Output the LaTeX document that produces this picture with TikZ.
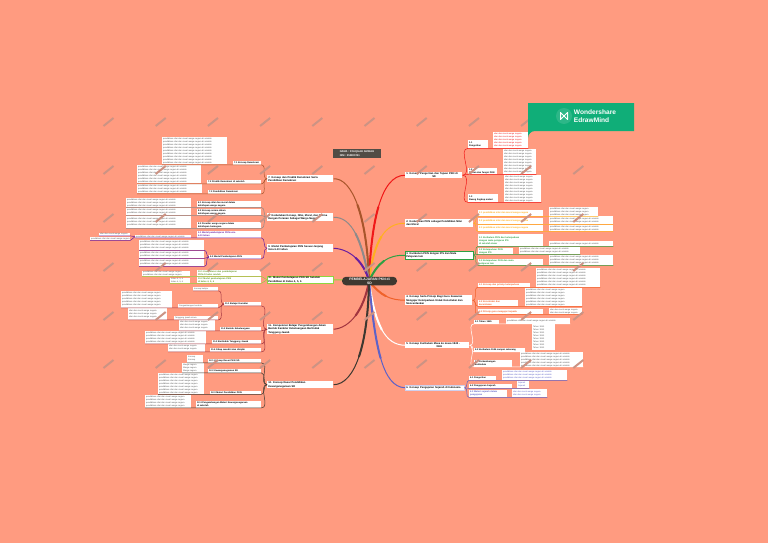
\documentclass[tikz,border=0pt]{standalone}
\usepackage{fontspec}
\setmainfont{Liberation Sans}
\usetikzlibrary{backgrounds,calc}
\definecolor{latar}{HTML}{FF9B80}
\definecolor{merah}{HTML}{F01818}
\definecolor{oranye}{HTML}{FFB020}
\definecolor{hijau}{HTML}{2EA043}
\definecolor{jingga}{HTML}{F0622A}
\definecolor{biru}{HTML}{5E62C8}
\definecolor{coklat}{HTML}{A8552B}
\definecolor{abu}{HTML}{8E8A8A}
\definecolor{ungu}{HTML}{6A1FA0}
\definecolor{limau}{HTML}{8ED63F}
\definecolor{marun}{HTML}{A2343F}
\definecolor{gelap}{HTML}{3E3830}
\definecolor{logohijau}{HTML}{10AE78}
\tikzset{
  daun/.style={fill=white,inner xsep=.8pt,inner ysep=0pt,align=left,text=black!65,font=\fontsize{2.1}{3}\selectfont},
  anak/.style={fill=white,inner xsep=.8pt,inner ysep=0pt,align=left,font=\fontsize{2.3}{3}\selectfont\bfseries},
  utama/.style={fill=white,inner xsep=1pt,inner ysep=0pt,align=left,line width=.5pt,font=\fontsize{2.6}{3.2}\selectfont\bfseries},
  tanda/.style={line width=2pt,color=abu!45!latar},
}
% kotak: nama, x1, y1, x2, y2, gaya, isi
\newcommand{\kotak}[7]{
  \pgfmathsetmacro\lebar{#4-#2}
  \pgfmathsetmacro\tinggi{#5-#3}
  \node[#6,anchor=north west,minimum width=\lebar pt,minimum height=\tinggi pt,text width=\lebar pt-1.8pt] (#1) at (#2,#3) {#7};
}
\newcommand{\isi}[2]{\foreach \i in {1,...,#2}{\mbox{#1}\par}}
\newcommand{\pendek}{nilai dan moral warga negara}
\newcommand{\sedang}{pendidikan nilai dan moral warga negara}
\newcommand{\panjang}{pendidikan nilai dan moral warga negara di sekolah}
% cabang kanan dan kiri: induk, anak, daun, warna
\newcommand{\kanan}[4]{\draw[#4,line width=.5pt] (#1.east) to[out=0,in=180] (#2.south west) -- (#2.south west -| #3.south east);}
\newcommand{\kiri}[4]{\draw[#4,line width=.5pt] (#1.west) to[out=180,in=0] (#2.south east) -- (#2.south east -| #3.south west);}
% dahan utama, tebal di dekat pusat
\newcommand{\dahan}[5]{
  \begin{scope}[on background layer]
  \coordinate (t1) at ($(pusat)!.5!#2$);
  \coordinate (t2) at ($#2!.5!#3$);
  \coordinate (t3) at ($#3!.5!(#1.#4)$);
  \coordinate (t4) at ($(t1)!.5!(t2)$);
  \coordinate (t5) at ($(t2)!.5!(t3)$);
  \coordinate (t6) at ($(t4)!.5!(t5)$);
  \draw[#5,line width=1pt] (pusat) .. controls #2 and #3 .. (#1.#4);
  \draw[#5,line width=2pt,line cap=round] (pusat) .. controls (t1) and (t4) .. (t6);
  \end{scope}
}
\begin{document}
\begin{tikzpicture}[x=1pt,y=-1pt]
\useasboundingbox (0,0) rectangle (768,543);
\begin{scope}[on background layer]
\fill[latar] (0,0) rectangle (768,543);
\end{scope}

% pusat
\node[fill=gelap,rounded corners=4pt,minimum width=55pt,minimum height=8.5pt,inner sep=0pt,align=center,text=white,font=\fontsize{3.4}{3.9}\selectfont\bfseries] (akar) at (369.5,281) {PEMBELAJARAN PKN di\\SD};
\coordinate (pusat) at (369,281);
\node[fill=gelap!90!white,minimum width=48pt,minimum height=9pt,inner sep=0pt,align=left,text=white,font=\fontsize{2.6}{3.4}\selectfont\bfseries] (catatan) at (357,153.5) {NAMA : SYAQILAH AMIRAH\\NIM : 050800741};

% cabang kanan
\kotak{Ra}{405}{172}{462}{178}{utama}{1. Konsep Pengertian dan Tujuan PKN di\\\hspace*{26pt}SD}
\kotak{Rb}{405}{219}{473}{227}{utama}{2. Kedudukan PKN sebagai Pendidikan Nilai\\dan Moral}
\kotak{Rc}{405}{251}{473}{259}{utama,draw=hijau}{3. Kurikulum PKN dengan IPS dan Mata\\Pelajaran lain}
\kotak{Rd}{405}{295}{472}{305}{utama}{4. Konsep Serta Prinsip Bagi Guru Kewarnai\\Mengajar Keterpaduan Untuk Konstruksi dan\\Mencerdaskan}
\kotak{Re}{405}{342}{469}{348}{utama}{5. Konsep Kurikulum Masa ke masa 1945 -\\\hspace*{30pt}1946}
\kotak{Rf}{405}{385}{464}{390}{utama,draw=biru!30}{6. Konsep Pengajaran Sejarah di Indonesia}
\dahan{Ra}{(371,225)}{(380,175)}{west}{merah}
\dahan{Rb}{(374,240)}{(385,223)}{west}{oranye}
\dahan{Rc}{(378,262)}{(388,255)}{west}{hijau}
\dahan{Rd}{(381,296)}{(390,300)}{west}{jingga}
\dahan{Re}{(375,325)}{(385,345)}{west}{white}
\dahan{Rf}{(375,345)}{(382,387)}{west}{biru}

\kotak{Ra1}{468}{140}{488}{148}{anak}{1.1\\Pengertian}
\kotak{Ra1i}{493}{132}{528}{148}{daun,text=merah}{\isi{\pendek}{5}}
\kotak{Ra2}{468}{168}{497}{174}{anak}{1.2\\Tujuan dan fungsi PKN}
\kotak{Ra2i}{503}{149}{536}{174}{daun}{\isi{\pendek}{8}}
\kotak{Ra3}{468}{194}{498}{202}{anak}{1.3\\Ruang lingkup materi}
\kotak{Ra3i}{504}{175}{541}{202}{daun}{\isi{\pendek}{9}}
\kanan{Ra}{Ra1}{Ra1i}{merah}
\kanan{Ra}{Ra2}{Ra2i}{merah}
\kanan{Ra}{Ra3}{Ra3i}{merah}

\kotak{Rb1}{478}{210}{543}{216}{anak,text=oranye}{2.1 \sedang}
\kotak{Rb1i}{549}{207}{598}{216}{daun}{\isi{\sedang}{3}}
\kotak{Rb2}{478}{218}{543}{224}{anak,text=oranye}{2.2 \sedang}
\kotak{Rb2i}{549}{216}{613}{224}{daun}{\isi{\panjang}{2}}
\kotak{Rb3}{478}{225}{543}{231}{anak,text=oranye}{2.3 \sedang}
\kotak{Rb3i}{549}{225}{613}{231}{daun}{\isi{\panjang}{2}}
\kanan{Rb}{Rb1}{Rb1i}{oranye}
\kanan{Rb}{Rb2}{Rb2i}{oranye}
\kanan{Rb}{Rb3}{Rb3i}{oranye}

\kotak{Rc1}{478}{234}{543}{246}{anak,text=hijau}{3.1 Kurikulum PKN dan keterpaduan\\dengan mata pelajaran IPS\\di sekolah dasar}
\kotak{Rc1i}{549}{241}{613}{246}{daun}{\isi{\panjang}{1}}
\kotak{Rc2}{478}{248}{513}{254}{anak,text=hijau}{3.2 Keterpaduan PKN\\dengan IPS}
\kotak{Rc2i}{519}{247}{580}{254}{daun}{\isi{\panjang}{2}}
\kotak{Rc3}{478}{259}{543}{265}{anak,text=hijau}{3.3 Keterpaduan PKN dan mata\\pelajaran lain}
\kotak{Rc3i}{549}{255}{613}{265}{daun}{\isi{\panjang}{3}}
\kanan{Rc}{Rc1}{Rc1i}{hijau}
\kanan{Rc}{Rc2}{Rc2i}{hijau}
\kanan{Rc}{Rc3}{Rc3i}{hijau}

\kotak{Rd1}{478}{283}{530}{287}{anak,text=jingga}{4.1 Konsep dan prinsip keterpaduan}
\kotak{Rd1i}{536}{268}{600}{287}{daun}{\isi{\panjang}{6}}
\kotak{Rd2}{478}{300}{518}{306}{anak,text=jingga}{4.2 Konstruksi dan\\kecerdasan}
\kotak{Rd2i}{525}{288}{582}{306}{daun}{\isi{\sedang}{6}}
\kotak{Rd3}{478}{309}{543}{314}{anak,text=jingga}{4.3 Prinsip guru mengajar terpadu}
\kotak{Rd3i}{549}{308}{582}{314}{daun}{\isi{\pendek}{2}}
\kanan{Rd}{Rd1}{Rd1i}{jingga}
\kanan{Rd}{Rd2}{Rd2i}{jingga}
\kanan{Rd}{Rd3}{Rd3i}{jingga}

\kotak{Re1}{474}{320}{499}{323.5}{anak}{5.1 Tahun 1945}
\kotak{Re1i}{506}{318}{570}{323.5}{daun}{\isi{\panjang}{1}}
\kotak{Re2}{474}{348}{525}{351.5}{anak}{5.2 Kurikulum 1946 sampai sekarang}
\kotak{Re2i}{532}{324}{555}{350}{daun}{\isi{Tahun 1950}{8}}
\kotak{Re3}{474}{360}{512}{366.5}{anak}{5.3 Perkembangan\\kurikulum}
\kotak{Re3i}{520}{352}{583}{367}{daun}{\isi{\panjang}{5}}
\kanan{Re}{Re1}{Re1i}{white}
\kanan{Re}{Re2}{Re2}{white}
\kanan{Re}{Re3}{Re3i}{white}

\kotak{Rf1}{469}{376}{496}{380}{anak}{6.1 Pengertian}
\kotak{Rf1i}{502}{370}{567}{380}{daun,text=biru}{\isi{\panjang}{3}}
\kotak{Rf2}{469}{384}{512}{388}{anak}{6.2 Pengajaran Sejarah}
\kotak{Rf2i}{517}{381}{529}{388}{daun,text=biru}{\isi{Sejarah}{2}}
\kotak{Rf3}{469}{390}{507}{397}{anak,text=biru}{6.3 Materi sejarah dalam\\pengajaran}
\kotak{Rf3i}{512}{389}{547}{397}{daun,text=biru}{\isi{\pendek}{2}}
\kanan{Rf}{Rf1}{Rf1i}{biru}
\kanan{Rf}{Rf2}{Rf2i}{biru}
\kanan{Rf}{Rf3}{Rf3i}{biru}

% cabang kiri
\kotak{La}{267}{175}{333}{182}{utama}{7. Konsep dan Praktik Demokrasi Serta\\Pendidikan Demokrasi}
\kotak{Lb}{267}{213}{333}{221}{utama}{8. Kedudukan Konsep, Nilai, Moral, dan Norma\\Dengan Peranan Sebagai Warga Negara}
\kotak{Lc}{267}{244}{333}{252}{utama}{9. Model Pembelajaran PKN Sesuai Jenjang\\Usia 6-10 tahun}
\kotak{Ld}{267}{276}{333}{283}{utama,draw=limau}{10. Model Pembelajaran PKN SD Sekolah\\Pendidikan di Kelas 4, 5, 6}
\kotak{Le}{267}{324}{333}{334}{utama}{11. Kompetensi Belajar Pengembangan dalam\\Bentuk Karakter Kekeluargaan Bertindak\\Tanggung Jawab}
\kotak{Lf}{267}{381}{333}{388}{utama}{12. Konsep Dasar Pendidikan\\Kewarganegaraan SD}
\dahan{La}{(367,215)}{(352,178)}{east}{coklat}
\dahan{Lb}{(362,240)}{(352,217)}{east}{abu}
\dahan{Lc}{(364,262)}{(350,249)}{east}{ungu}
\dahan{Ld}{(355,280)}{(345,280)}{east}{limau}
\dahan{Le}{(364,310)}{(350,328)}{east}{marun}
\dahan{Lf}{(368,345)}{(355,384)}{east}{gelap}

\kotak{La1}{233}{161}{261}{164.5}{anak}{7.1 Konsep Demokrasi}
\kotak{La1i}{162}{137}{227}{164}{daun}{\isi{\panjang}{9}}
\kotak{La2}{207}{180}{261}{183.5}{anak}{7.2 Praktik Demokrasi di sekolah}
\kotak{La2i}{137}{165}{201}{183}{daun}{\isi{\panjang}{6}}
\kotak{La3}{208}{190}{261}{193.5}{anak}{7.3 Pendidikan Demokrasi}
\kotak{La3i}{137}{184}{202}{193}{daun}{\isi{\panjang}{3}}
\kiri{La}{La1}{La1i}{coklat}
\kiri{La}{La2}{La2i}{coklat}
\kiri{La}{La3}{La3i}{coklat}

\kotak{Lb1}{197}{201}{261}{207}{anak}{8.1 Konsep nilai dan moral dalam\\kehidupan warga negara}
\kotak{Lb1i}{126}{198}{191}{207}{daun}{\isi{\panjang}{3}}
\kotak{Lb2}{197}{209}{261}{215}{anak}{8.2 Konsep norma dalam\\kehidupan warga negara}
\kotak{Lb2i}{126}{208}{191}{215}{daun}{\isi{\panjang}{2}}
\kotak{Lb3}{197}{222}{261}{228}{anak}{8.3 Peranan warga negara dalam\\kehidupan bernegara}
\kotak{Lb3i}{126}{216}{191}{228}{daun}{\isi{\panjang}{3}}
\kiri{Lb}{Lb1}{Lb1i}{abu}
\kiri{Lb}{Lb2}{Lb2i}{abu}
\kiri{Lb}{Lb3}{Lb3i}{abu}

\kotak{Lc1}{197}{231}{261}{237.5}{anak,text=ungu}{9.1 Model pembelajaran PKN usia\\6-10 tahun}
\kotak{Lc1i}{135}{235}{191}{238}{daun}{\isi{\panjang}{1}}
\kotak{Lc1a}{99}{233}{130}{235.5}{daun}{\isi{\pendek}{1}}
\kotak{Lc1b}{90}{237}{130}{240}{daun}{\isi{\sedang}{1}}
\kotak{Lc2}{209}{255}{261}{258.5}{anak}{9.2 Model Pembelajaran PKN}
\kotak{Lc2a}{139}{240}{204}{250}{daun}{\isi{\panjang}{3}}
\kotak{Lc2b}{139}{251}{204}{258}{daun}{\isi{\panjang}{2}}
\kotak{Lc2c}{139}{259}{204}{266}{daun}{\isi{\panjang}{2}}
\kiri{Lc}{Lc1}{Lc1i}{ungu}
\kiri{Lc1i}{Lc1a}{Lc1a}{ungu}
\kiri{Lc1i}{Lc1b}{Lc1b}{ungu}
\kiri{Lc}{Lc2}{Lc2}{ungu}
\kiri{Lc2}{Lc2a}{Lc2a}{ungu}
\kiri{Lc2}{Lc2b}{Lc2b}{ungu}
\kiri{Lc2}{Lc2c}{Lc2c}{ungu}

\kotak{Ld1}{197}{270}{261}{276}{anak,text=limau!70!black}{10.1 Kompetensi dan pembelajaran\\PKN di kelas rendah}
\kotak{Ld1i}{142}{271}{190}{276}{daun}{\isi{\sedang}{2}}
\kotak{Ld2}{197}{277}{261}{283}{anak,text=limau!70!black}{10.2 Model pembelajaran PKN\\di kelas 4, 5, 6}
\kotak{Ld2i}{170}{278}{190}{283}{daun}{\isi{Kelas 4, 5, 6}{2}}
\kiri{Ld}{Ld1}{Ld1i}{limau}
\kiri{Ld}{Ld2}{Ld2i}{limau}

\kotak{Le1}{224}{302}{261}{305.5}{anak}{11.1 Belajar Karakter}
\kotak{Le1a}{193}{287}{218}{290.5}{daun}{Konsep belajar}
\kotak{Le1b}{178}{304}{218}{307.5}{daun}{Pengembangan karakter}
\kotak{Le1bi}{121}{291}{172}{307.5}{daun}{\isi{\sedang}{5}}
\kotak{Le1c}{174}{316}{218}{319.5}{daun}{Tanggung jawab siswa}
\kotak{Le1ci}{128}{308}{167}{319.5}{daun}{\isi{\pendek}{3}}
\kotak{Le2}{220}{327}{261}{330.5}{anak}{11.2 Bentuk Kekeluargaan}
\kotak{Le2i}{179}{320}{215}{330.5}{daun}{\isi{\pendek}{3}}
\kotak{Le3}{212}{340}{261}{343.5}{anak}{11.3 Bertindak Tanggung Jawab}
\kotak{Le3i}{145}{331}{206}{343.5}{daun}{\isi{\panjang}{4}}
\kotak{Le4}{210}{348}{261}{351.5}{anak}{11.4 Sikap mandiri dan disiplin}
\kotak{Le4i}{168}{344}{205}{351.5}{daun}{\isi{\pendek}{2}}
\kiri{Le}{Le1}{Le1}{marun}
\kiri{Le1}{Le1a}{Le1a}{marun}
\kiri{Le1}{Le1b}{Le1bi}{marun}
\kiri{Le1}{Le1c}{Le1ci}{marun}
\kiri{Le}{Le2}{Le2i}{marun}
\kiri{Le}{Le3}{Le3i}{marun}
\kiri{Le}{Le4}{Le4i}{marun}

\kotak{Lf1}{208}{359}{261}{362.5}{anak}{12.1 Konsep Dasar PKN SD}
\kotak{Lf1i}{187}{355}{203}{362.5}{daun}{\isi{Konsep}{2}}
\kotak{Lf2}{208}{369}{261}{372.5}{anak}{12.2 Kewarganegaraan SD}
\kotak{Lf2i}{182}{363}{204}{372.5}{daun}{\isi{Warga negara}{3}}
\kotak{Lf3}{210}{391}{261}{394}{anak}{12.3 Materi Pendidikan PKN}
\kotak{Lf3i}{158}{373}{204}{394}{daun}{\isi{\sedang}{7}}
\kotak{Lf4}{196}{401}{261}{407.5}{anak}{12.4 Pengembangan Materi Kewarganegaraan\\di sekolah}
\kotak{Lf4i}{145}{395}{191}{407.5}{daun}{\isi{\sedang}{4}}
\kiri{Lf}{Lf1}{Lf1i}{gelap}
\kiri{Lf}{Lf2}{Lf2i}{gelap}
\kiri{Lf}{Lf3}{Lf3i}{gelap}
\kiri{Lf}{Lf4}{Lf4i}{gelap}

% tanda air
\foreach \bar in {122,170,218,267,316,364}
  \foreach \kol in {0,...,9}
    \draw[tanda] ({108.5+52.2*\kol-5},\bar+4) -- ({108.5+52.2*\kol+5},\bar-4);

% logo
\fill[logohijau] (528,103) -- (634,103) -- (634,131) -- (535,131) arc (270:180:7) -- cycle;
\node[inner sep=0pt,align=left,text=white,font=\fontsize{6.6}{7.8}\selectfont\bfseries] (logo) at (595,116.5) {Wondershare\\EdrawMind};
\fill[white,opacity=.12] (564,116) circle (8);
\draw[white,line width=1pt,line join=round] (560.5,112.5) -- (560.5,119.5) -- (567.5,112.5) -- (567.5,119.5) -- cycle;
\end{tikzpicture}
\end{document}
